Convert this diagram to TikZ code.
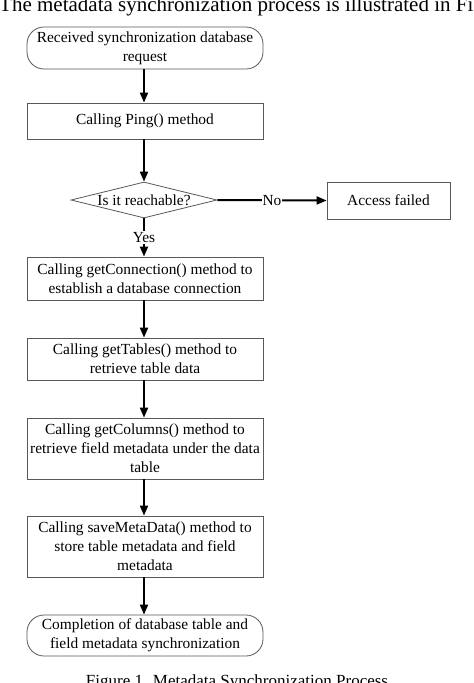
\documentclass[tikz,border=0pt]{standalone}
\usepackage{fontspec}
\setmainfont{Liberation Serif}
\usetikzlibrary{shapes.geometric,arrows.meta}
\tikzset{
  txt/.style={font=\fontsize{15.4}{19}\selectfont, text=black},
  box/.style={txt, draw=black!65, line width=0.8pt, rectangle, minimum width=236pt, inner sep=0pt, align=center},
  term/.style={box, rounded corners=17pt},
  flow/.style={line width=2pt, draw=black, -{Triangle[length=10pt,width=8pt]}},
  lbl/.style={txt, fill=white, inner sep=1pt}
}
\begin{document}
\begin{tikzpicture}[x=1pt,y=-1pt]
\useasboundingbox (0,0) rectangle (474,683);
\clip (0,0) rectangle (474,683);
\fill[white] (0,0) rectangle (474,683);
\node[font=\fontsize{21}{24}\selectfont, anchor=base west, inner sep=0pt] (top) at (-1,11) {The metadata synchronization process is illustrated in Fig};
\node[term, minimum height=42pt] (start) at (145,48) {Received synchronization database\\request};
\node[box, minimum height=36pt] (ping) at (145,121) {Calling Ping() method};
\node[draw=black!65, line width=0.8pt, diamond, minimum width=146pt, minimum height=36pt, inner sep=0pt] (dec) at (144,200) {};
\node[txt] (dectxt) at (dec.center) {Is it reachable?};
\node[box, minimum width=123pt, minimum height=37pt] (fail) at (388.5,200.5) {Access failed};
\node[box, minimum height=43pt] (conn) at (145,278.5) {Calling getConnection() method to\\establish a database connection};
\node[box, minimum height=42pt] (tables) at (145,359) {Calling getTables() method to\\retrieve table data};
\node[box, minimum height=61pt] (cols) at (145,448.5) {Calling getColumns() method to\\retrieve field metadata under the data\\table};
\node[box, minimum height=61pt] (save) at (145,546.5) {Calling saveMetaData() method to\\store table metadata and field\\metadata};
\node[term, minimum height=41pt] (end) at (145,635.5) {Completion of database table and\\field metadata synchronization};
\node[font=\fontsize{17}{20}\selectfont, anchor=base, inner sep=0pt] (cap) at (237,686) {Figure 1. Metadata Synchronization Process};

\draw[flow] (start.south -| 144,0) -- (ping.north -| 144,0);
\draw[flow] (ping.south -| 144,0) -- (dec.north);
\draw[flow] (dec.east) -- node[lbl] {No} (fail.west);
\draw[flow] (dec.south) -- node[lbl] {Yes} (conn.north -| 144,0);
\draw[flow] (conn.south -| 144,0) -- (tables.north -| 144,0);
\draw[flow] (tables.south -| 144,0) -- (cols.north -| 144,0);
\draw[flow] (cols.south -| 144,0) -- (save.north -| 144,0);
\draw[flow] (save.south -| 144,0) -- (end.north -| 144,0);
\end{tikzpicture}
\end{document}
